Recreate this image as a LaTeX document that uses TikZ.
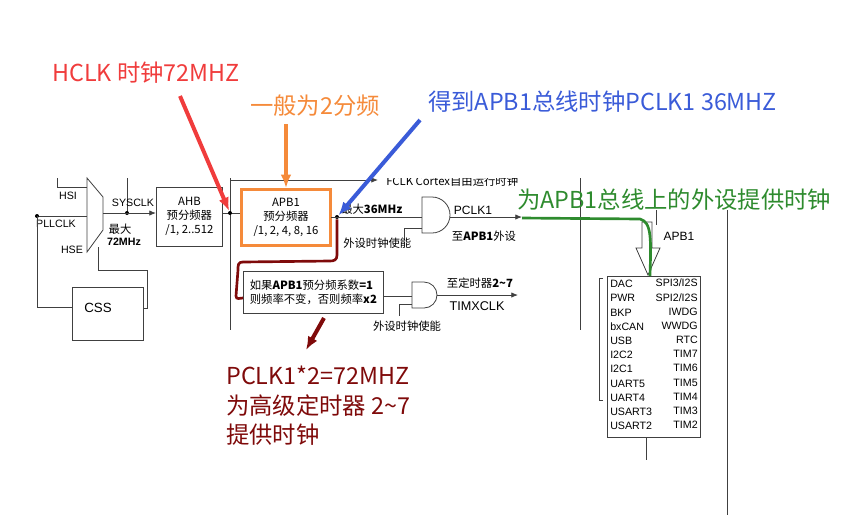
\documentclass[tikz,border=0pt]{standalone}
\usepackage{fontspec}
\setmainfont{Liberation Sans}
\newfontfamily\cjk{Noto Sans CJK SC}
\usetikzlibrary{arrows.meta}
\definecolor{hred}{HTML}{F03C3C}
\definecolor{horange}{HTML}{F58A3A}
\definecolor{hblue}{HTML}{3A5BD8}
\definecolor{hgreen}{HTML}{2E8B2E}
\definecolor{hdred}{HTML}{7F0A0A}
\tikzset{
 ln/.style={draw=black!75,line width=0.6pt},
 box/.style={draw=black!75,line width=0.6pt,fill=white},
 tx/.style={font=\cjk\fontsize{8.5}{10}\selectfont,inner sep=0pt,align=center},
 ptx/.style={font=\fontsize{8}{9}\selectfont,inner sep=0pt},
 ann/.style={font=\cjk\fontsize{17.5}{21}\selectfont,inner sep=0pt,align=left},
 tip/.style={-{Latex[length=10pt,width=8pt]}},
 dot/.style={circle,fill=black,inner sep=0pt,minimum size=3pt},
 gate/.style={draw=black!75,line width=0.6pt,fill=white}
}
\begin{document}
\begin{tikzpicture}[x=0.75pt,y=-0.75pt]
\useasboundingbox (0,0) rectangle (856,515);
% left clock source area
\draw[ln] (57,178) -- (57,187) -- (87,187);
\node[ptx] at (68,196) {HSI};
\draw[ln] (35,216) -- (87,216);
\node[dot] (pd) at (37,216) {};
\node[ptx] at (56,224) {PLLCLK};
\node[ptx] at (72,250) {HSE};
\draw[ln] (87,178) -- (103,197) -- (103,230) -- (87,252) -- cycle;
\draw[ln] (98,247) -- (98,270) -- (147,270) -- (147,308) -- (127,308);
\draw[ln] (37,216) -- (37,307) -- (72,307);
\node[box,minimum width=53pt,minimum height=40pt,anchor=north west] (css) at (72,287) {};
\node[ptx,font=\fontsize{10}{11}\selectfont] at (98,308) {CSS};
\draw[ln] (127,178) -- (127,213);
\node[dot] at (127,213) {};
\node[ptx] at (133,203) {SYSCLK};
\node[tx] at (120,229) {最大};
\node[ptx,font=\bfseries\fontsize{8}{9}\selectfont] at (124,242) {72MHz};
\node[box,minimum width=49.5pt,minimum height=44pt,anchor=north west,align=center,font=\cjk\fontsize{8.5}{10.5}\selectfont,inner sep=1pt] (ahb) at (156,187) {AHB\\预分频器\\/1, 2..512};
\draw[ln,-{Latex[length=5pt,width=4pt]}] (103,213) -- (ahb.west|-0,213);
% APB1 box
\draw[ln] (230,178) -- (230,330);
\draw[ln,-{Latex[length=5pt,width=4pt]}] (230,180) -- (378,180);
\begin{scope}
\clip (370,178) rectangle (580,200);
\node[tx,anchor=west] at (386,181) {FCLK Cortex自由运行时钟};
\end{scope}
\node[draw=horange,line width=2pt,fill=white,minimum width=67pt,minimum height=42pt,anchor=north west,align=center,font=\cjk\fontsize{8.5}{10.5}\selectfont,inner sep=1pt] (apb) at (240,188) {APB1\\预分频器\\/1, 2, 4, 8, 16};
\draw[ln] (ahb.east|-0,213) -- (apb.west|-0,213);
\node[dot] (jd) at (230,213) {};
\node[dot] (od) at (337,217) {};
\draw[ln] (331,217) -- (423,217);
\node[tx,anchor=west] at (341,209) {最大\textbf{36MHz}};
\draw[gate] (422,197) -- (432,197) arc (-90:90:18) -- (422,233) -- cycle;
\draw[ln] (422,228) -- (404,228) -- (404,240);
\node[tx,anchor=west] at (343,243) {外设时钟使能};
\draw[ln,-{Latex[length=5pt,width=4pt]}] (450,217) -- (522,217);
\node[ptx,font=\fontsize{9}{10}\selectfont] at (473,210) {PCLK1};
\node[tx] at (484,236) {至\textbf{APB1}外设};
% second box
\node[box,minimum width=105pt,minimum height=31.5pt,anchor=north west,align=left,font=\cjk\fontsize{8.5}{11}\selectfont,inner sep=1pt] (mul) at (243,271) {如果\textbf{APB1}预分频系数\textbf{=1}\\则频率不变，否则频率\textbf{x2}};
\draw[ln] (mul.east|-0,296) -- (413,296);
\draw[gate] (412,282) -- (424,282) arc (-90:90:13) -- (412,308) -- cycle;
\draw[ln] (412,304) -- (399,304) -- (399,316);
\node[tx] at (407,326) {外设时钟使能};
\draw[ln,-{Latex[length=5pt,width=4pt]}] (437,295) -- (518,295);
\node[tx] at (480,283) {至定时器\textbf{2\textasciitilde7}};
\node[ptx,font=\fontsize{9.5}{10}\selectfont] at (477,306) {TIMXCLK};
\draw[ln] (580,178) -- (580,330);
% right
\draw[ln] (727,210) -- (727,515);
\draw[ln] (656,210) -- (656,225);
\draw[ln,fill=white] (642,222) -- (652,222) -- (652,248) -- (660,248) -- (648,275) -- (636,248) -- (642,248) -- cycle;
\node[ptx,font=\fontsize{9}{10}\selectfont] at (679,236) {APB1};
\node[box,minimum width=70pt,minimum height=121pt,anchor=north west] (per) at (607,276) {};
\draw[ln] (603,278) -- (599,278) -- (599,400) -- (603,400);
\draw[ln] (646,438) -- (646,460);
\foreach \l/\r [count=\i from 0] in {DAC/{SPI3/I2S},PWR/{SPI2/I2S},BKP/IWDG,bxCAN/WWDG,USB/RTC,I2C2/TIM7,I2C1/TIM6,UART5/TIM5,UART4/TIM4,USART3/TIM3,USART2/TIM2}{
 \node[ptx,anchor=west] at (610,284+14.2*\i) {\l};
 \node[ptx,anchor=east] at (698,283+14.2*\i) {\r};
}
% annotations
\node[ann,text=hred,anchor=west] (a1) at (52,73) {HCLK 时钟72MHZ};
\draw[hred,line width=3pt,tip] (180,96) -- (jd);
\node[ann,text=horange,anchor=west] (a2) at (250,106) {一般为2分频};
\draw[horange,line width=3pt,tip] (286,124) -- (apb.north-|286,0);
\node[ann,text=hblue,anchor=west] (a3) at (428,102) {得到APB1总线时钟PCLK1 36MHZ};
\draw[hblue,line width=3pt,tip] (420,120) -- (od);
\node[ann,text=hgreen,anchor=west] (a4) at (517,200) {为APB1总线上的外设提供时钟};
\draw[hgreen,line width=2pt] (522,218) -- (640,219) .. controls (652,222) and (651,240) .. (650,276);
\draw[hdred,line width=2pt] (od) -- (337,255) .. controls (337,260) and (334,261) .. (330,261) -- (243,262) .. controls (238,262) and (238,265) .. (238,270) -- (236,296) .. controls (236,300) and (240,298) .. (243,298);
\draw[hdred,line width=3pt,tip] (324,318) -- (306,350);
\node[ann,text=hdred,anchor=north west,font=\cjk\fontsize{17.5}{22}\selectfont] (a5) at (226,366) {PCLK1*2=72MHZ\\为高级定时器 2\textasciitilde7\\提供时钟};
\end{tikzpicture}
\end{document}
